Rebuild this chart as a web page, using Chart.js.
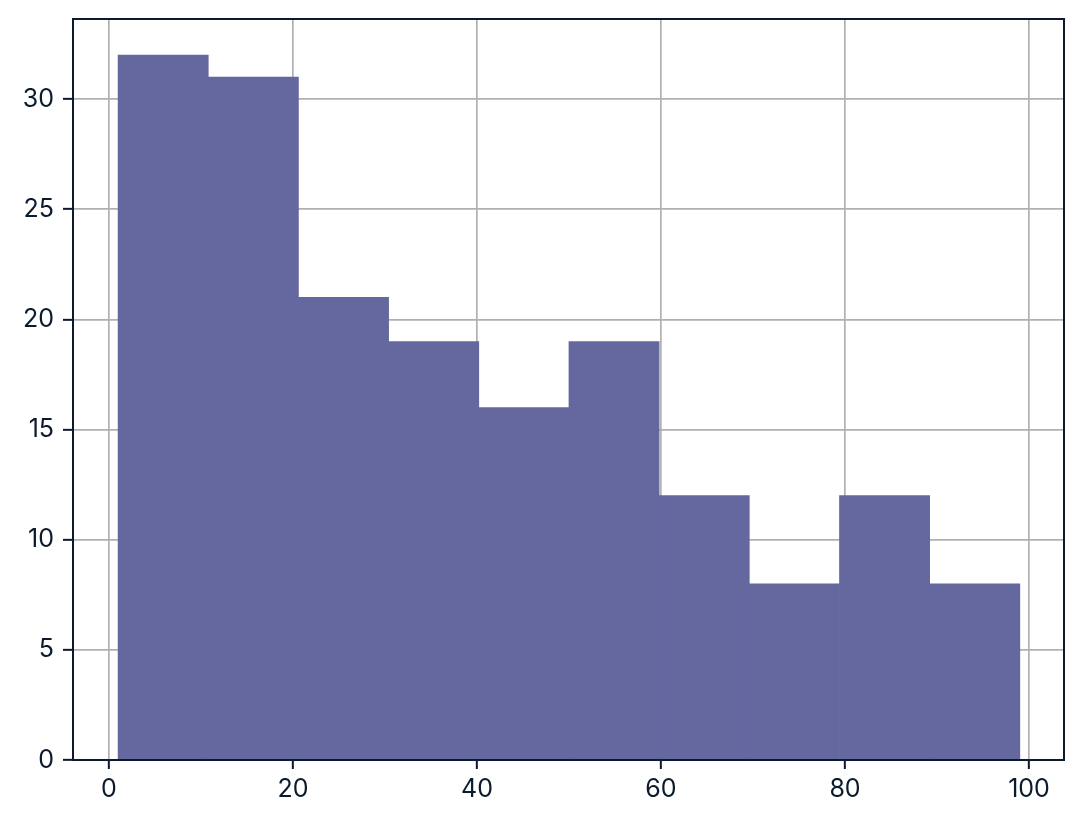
<!DOCTYPE html>
<html>
<head>
<meta charset="utf-8">
<script src="https://cdn.jsdelivr.net/npm/chart.js@4"></script>
<style>
  html, body { margin: 0; padding: 0; background: #fff; }
  #wrap { width: 1085px; height: 826px; }
</style>
</head>
<body>
<div id="wrap"><canvas id="hist"></canvas></div>
<script>
// histogram bins (edges) and counts
const binEdges = [1, 10.8, 20.6, 30.4, 40.2, 50, 59.8, 69.6, 79.4, 89.2, 99];
const counts = [32, 31, 21, 19, 16, 19, 12, 8, 12, 8];
const xTicks = [0, 20, 40, 60, 80, 100];
const yTicks = [0, 5, 10, 15, 20, 25, 30];

const ink = '#0b1a2e';
const gridGray = '#b0b0b0';
const barColor = '#65679f';

const points = counts.map((c, i) => ({ x: (binEdges[i] + binEdges[i + 1]) / 2, y: c }));

// matplotlib draws a box round the axes: add top and right spines
const spines = {
  id: 'spines',
  afterDraw(chart) {
    const { ctx, chartArea: a } = chart;
    ctx.save();
    ctx.strokeStyle = ink;
    ctx.lineWidth = 2;
    ctx.strokeRect(a.left, a.top, a.right - a.left, a.bottom - a.top);
    ctx.restore();
  }
};

const tickFont = { family: 'Inter, "Open Sans", sans-serif', size: 25 };

new Chart(document.getElementById('hist'), {
  type: 'bar',
  data: {
    datasets: [{
      data: points,
      backgroundColor: barColor,
      borderWidth: 0,
      barPercentage: 1,
      categoryPercentage: 1
    }]
  },
  options: {
    responsive: true,
    maintainAspectRatio: false,
    animation: false,
    layout: { padding: { top: 19, right: 21, left: 0, bottom: 0 } },
    plugins: { legend: { display: false }, tooltip: { enabled: false } },
    scales: {
      x: {
        type: 'linear',
        min: -3.9,
        max: 103.8,
        offset: false,
        z: 1,
        afterBuildTicks: s => { s.ticks = xTicks.map(v => ({ value: v })); },
        afterFit: s => { s.height = 66; s.paddingLeft = 0; s.paddingRight = 0; },
        grid: { offset: false, color: gridGray, lineWidth: 1.7, tickColor: ink, tickLength: 9, tickWidth: 2 },
        border: { color: ink, width: 2 },
        ticks: { color: ink, font: tickFont, padding: 5, maxRotation: 0 }
      },
      y: {
        min: 0,
        max: 33.64,
        z: 1,
        afterBuildTicks: s => { s.ticks = yTicks.map(v => ({ value: v })); },
        afterFit: s => { s.width = 73; s.paddingTop = 0; s.paddingBottom = 0; },
        grid: { color: gridGray, lineWidth: 1.7, tickColor: ink, tickLength: 10, tickWidth: 2 },
        border: { color: ink, width: 2 },
        ticks: { color: ink, font: tickFont, padding: 9 }
      }
    }
  },
  plugins: [spines]
});
</script>
</body>
</html>
